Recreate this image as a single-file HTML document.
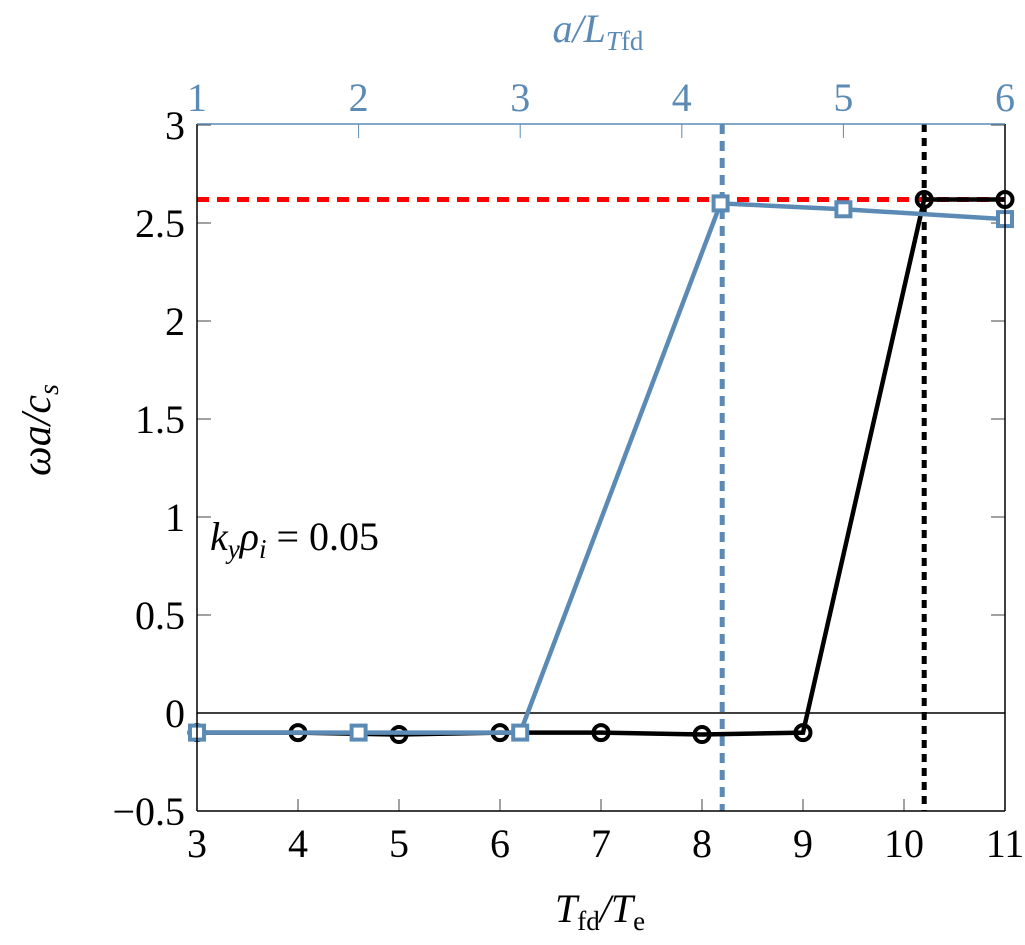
<!DOCTYPE html>
<html><head><meta charset="utf-8"><style>
html,body{margin:0;padding:0;background:#fff;}
svg text{font-family:"Liberation Serif",serif;}
</style></head><body>
<svg id="chart" width="1025" height="945" viewBox="0 0 1025 945" xmlns="http://www.w3.org/2000/svg" style="position:absolute;left:0;top:0">
<g id="g"></g>
</svg>
<script>
const xTicks=[3,4,5,6,7,8,9,10,11];
const topTicks=[1,2,3,4,5,6];
const yTicks=[-0.5,0,0.5,1,1.5,2,2.5,3];
const yTickLabels=["\u22120.5","0","0.5","1","1.5","2","2.5","3"];
const blackX=[3,4,5,6,7,8,9,10.2,11];
const blackY=[-0.1,-0.1,-0.11,-0.1,-0.1,-0.11,-0.1,2.62,2.62];
const blueX=[1,2,3,4.24,5,6];
const blueY=[-0.1,-0.1,-0.1,2.6,2.57,2.52];
const redLevel=2.62;
const blueVLine=4.25;
const blackVLine=10.2;

const L=197,R=1005,T=124,B=811;
const X=v=>L+(v-3)*(R-L)/8;
const XT=v=>L+(v-1)*(R-L)/5;
const Y=v=>713-196*v;
const g=document.getElementById('g');
const NS='http://www.w3.org/2000/svg';
function mk(tag,attrs,text){const e=document.createElementNS(NS,tag);for(const k in attrs)e.setAttribute(k,attrs[k]);if(text!==undefined)e.textContent=text;g.appendChild(e);return e;}
const BLUE='#5b8bb5';

xTicks.forEach(v=>{
 const t=mk('line',{x1:X(v),x2:X(v),y1:B,y2:B-12,stroke:'#444','stroke-width':1});
 
 const l=mk('text',{x:X(v),y:B+46,'font-size':40,'text-anchor':'middle',fill:'#000'},v);
 
});
topTicks.forEach(v=>{
 const t=mk('line',{x1:XT(v),x2:XT(v),y1:T,y2:T+14,stroke:BLUE,'stroke-width':1});
 
 const l=mk('text',{x:XT(v),y:T-13,'font-size':40,'text-anchor':'middle',fill:BLUE},v);
 
});
yTicks.forEach((v,i)=>{
 const t=mk('line',{x1:L,x2:L+14,y1:Y(v),y2:Y(v),stroke:'#444','stroke-width':1});
 
 const t2=mk('line',{x1:R,x2:R-14,y1:Y(v),y2:Y(v),stroke:'#444','stroke-width':1});
 
 const l=mk('text',{x:L-12,y:Y(v)+14,'font-size':40,'text-anchor':'end',fill:'#000'},yTickLabels[i]);
 
});

const z=mk('line',{x1:L,x2:R,y1:Y(0),y2:Y(0),stroke:'#000','stroke-width':1.5});


const rl=mk('line',{x1:L,x2:R,y1:Y(redLevel),y2:Y(redLevel),stroke:'#f00','stroke-width':5,'stroke-dasharray':'12 8'});

const bv=mk('line',{x1:XT(blueVLine),x2:XT(blueVLine),y1:T,y2:B,stroke:BLUE,'stroke-width':5,'stroke-dasharray':'10 7'});

const kv=mk('line',{x1:X(blackVLine),x2:X(blackVLine),y1:T,y2:B,stroke:'#000','stroke-width':5,'stroke-dasharray':'8 6'});


const bp=mk('polyline',{points:blackX.map((v,i)=>X(v)+','+Y(blackY[i])).join(' '),fill:'none',stroke:'#000','stroke-width':4.5});

blackX.forEach((v,i)=>{
 const c=mk('circle',{cx:X(v),cy:Y(blackY[i]),r:7.5,fill:'none',stroke:'#000','stroke-width':4});
 
});
const up=mk('polyline',{points:blueX.map((v,i)=>XT(v)+','+Y(blueY[i])).join(' '),fill:'none',stroke:BLUE,'stroke-width':4.5});

blueX.forEach((v,i)=>{
 const s=mk('rect',{x:XT(v)-7,y:Y(blueY[i])-7,width:14,height:14,fill:'#fff',stroke:BLUE,'stroke-width':4});
 
});

const f1=mk('line',{x1:L,x2:L,y1:T,y2:B,stroke:'#000','stroke-width':1.5});
const f2=mk('line',{x1:R,x2:R,y1:T,y2:B,stroke:'#000','stroke-width':1.5});
const f3=mk('line',{x1:L,x2:R,y1:B,y2:B,stroke:'#000','stroke-width':1.5});
const f4=mk('line',{x1:L,x2:R,y1:T,y2:T,stroke:BLUE,'stroke-width':1.5});
</script>
<svg style="position:absolute;left:0;top:0" width="1025" height="945">
<text x="210" y="550" font-size="40" font-family="Liberation Serif, serif"><tspan font-style="italic">k</tspan><tspan font-style="italic" font-size="27" dy="8">y</tspan><tspan font-style="italic" dy="-8">ρ</tspan><tspan font-style="italic" font-size="27" dy="8">i</tspan><tspan dy="-8"> = 0.05</tspan></text>
<text x="600" y="922" font-size="40" text-anchor="middle" font-family="Liberation Serif, serif"><tspan font-style="italic">T</tspan><tspan font-size="27" dy="8">fd</tspan><tspan dy="-8" font-style="italic">/T</tspan><tspan font-size="27" dy="8">e</tspan></text>
<text x="598" y="42" font-size="40" text-anchor="middle" fill="#5b8bb5" font-family="Liberation Serif, serif"><tspan font-style="italic">a/L</tspan><tspan font-size="27" dy="8" font-style="italic">T</tspan><tspan font-size="27">fd</tspan></text>
<text transform="translate(50,430) rotate(-90)" font-size="42" text-anchor="middle" font-family="Liberation Serif, serif"><tspan font-style="italic">ωa/c</tspan><tspan font-size="28" dy="8" font-style="italic">s</tspan></text>
</svg>
</body></html>
